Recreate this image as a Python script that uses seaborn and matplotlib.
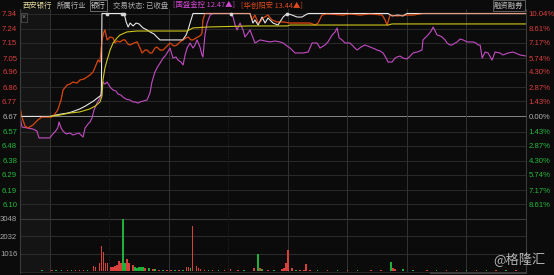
import matplotlib
matplotlib.use("Agg")
import matplotlib.pyplot as plt
import seaborn as sns
import pandas as pd
from matplotlib.patches import Rectangle

# ---------------- data (time = minutes after 09:15; 15 = 09:30, 135 = 11:30/13:00, 255 = 15:00)
price_ticks = [7.34, 7.24, 7.15, 7.05, 6.96, 6.86, 6.77, 6.67, 6.57, 6.48, 6.38, 6.29, 6.19, 6.10]
price_labels = ["7.34", "7.24", "7.15", "7.05", "6.96", "6.86", "6.77", "6.67", "6.57", "6.48", "6.38", "6.29", "6.19", "6.10"]
pct_labels = ["10.04%", "8.61%", "7.17%", "5.74%", "4.30%", "2.87%", "1.43%", "0.00%",
              "1.43%", "2.87%", "4.30%", "5.74%", "7.17%", "8.61%"]
prev_close = 6.67
vol_ticks = [1016, 2032, 3048]
vol_labels = ["1016", "2032", "3048"]
time_grid = [15, 45, 75, 105, 135, 165, 195, 225]

white_t = [0, 15, 18, 21, 24, 26, 30, 33, 37, 39, 41, 41.3, 44, 51.5, 52.5, 53.5, 54.5, 55.5, 57, 58.5,
           60, 62, 64, 65.5, 67.5, 69, 70.5, 73, 75.5, 78, 82, 83.7, 84.7, 85.7, 87.2, 106.4, 115.9, 117.4, 118.4, 120,
           122, 123.5, 125, 127.5, 130, 132.6, 134.6, 137.1, 139.6, 142.1, 144.7, 145.5, 185.5, 187.5, 190.5, 193, 195, 255]
white_p = [6.67, 6.67, 6.679, 6.686, 6.692, 6.699, 6.718, 6.738, 6.770, 6.790, 6.809, 7.34, 7.34, 7.34, 7.34, 7.285, 7.252, 7.278, 7.259, 7.278,
           7.272, 7.246, 7.233, 7.220, 7.207, 7.187, 7.168, 7.168, 7.168, 7.168, 7.168, 7.200, 7.233, 7.278, 7.34, 7.34, 7.34, 7.278, 7.298, 7.265,
           7.317, 7.278, 7.311, 7.278, 7.265, 7.317, 7.34, 7.330, 7.317, 7.317, 7.337, 7.34, 7.34, 7.324, 7.330, 7.324, 7.34, 7.34]

avg_t = [15, 20, 25, 30, 35, 38, 40.3, 41.3, 41.8, 42.8, 43.9, 45.4, 46.9, 48.9, 50.4, 53.9, 59, 84.2, 87.2, 94.3,
         115.9, 134.6, 136.1, 185.5, 187.5, 255]
avg_p = [6.67, 6.679, 6.692, 6.699, 6.718, 6.738, 6.764, 6.803, 6.907, 6.985, 7.037, 7.102, 7.148, 7.181, 7.200, 7.220, 7.226, 7.226, 7.246, 7.252,
         7.259, 7.259, 7.265, 7.265, 7.272, 7.272]

hcya_t = [0, 1, 2.5, 4, 6.5, 9, 11, 14, 16, 17.6, 19, 20.7, 21.7, 23.7, 25.2, 26.7, 28.7, 30.2, 32.3, 33.8,
          35.3, 36.8, 38.3, 39.3, 40.3, 41.3, 42.3, 42.8, 43.9, 45.4, 46.9, 47.9, 48.9, 50.4, 51.9, 52.9, 54.4, 55.4, 57.5, 59.0,
          60.5, 61.5, 63.0, 64.0, 65.5, 66.5, 68.0, 69.0, 70.6, 72.1, 74.1, 75.6, 77.6, 79.1, 80.6, 82.2, 83.7, 84.7, 86.2, 87.2,
          88.7, 89.7, 91.2, 91.7, 92.2, 93.2, 115.9, 116.9, 118.4, 120, 121, 122.5, 125, 127, 129.5, 132.6, 136.1, 142.6, 146.2, 148.7,
          150.2, 152.2, 154.7, 162.8, 166.3, 171.4, 176.4, 182.5, 184, 185, 186.5, 190, 195, 198.1, 201.6, 203, 255]
hcya_p = [6.731, 6.666, 6.608, 6.595, 6.614, 6.647, 6.666, 6.666, 6.666, 6.686, 6.712, 6.777, 6.842, 6.874, 6.881, 6.894, 6.887, 6.907, 6.914, 6.927,
          6.940, 6.959, 7.005, 7.037, 7.024, 7.168, 7.220, 7.233, 7.168, 7.187, 7.181, 7.148, 7.161, 7.155, 7.168, 7.168, 7.141, 7.135, 7.148, 7.155,
          7.115, 7.083, 7.102, 7.102, 7.083, 7.083, 7.115, 7.122, 7.102, 7.102, 7.128, 7.148, 7.128, 7.135, 7.155, 7.168, 7.181, 7.187, 7.168, 7.168,
          7.181, 7.187, 7.200, 7.213, 7.298, 7.34, 7.34, 7.298, 7.330, 7.278, 7.285, 7.311, 7.330, 7.298, 7.285, 7.285, 7.278, 7.278, 7.278, 7.265,
          7.278, 7.330, 7.337, 7.330, 7.337, 7.330, 7.337, 7.330, 7.298, 7.265, 7.330, 7.324, 7.330, 7.330, 7.337, 7.34, 7.34]

gsjk_t = [0, 1, 6.5, 8.5, 9.6, 15, 16.6, 18, 19, 19.7, 20.7, 21.7, 23.2, 25.2, 26.7, 28.2, 29.7, 30.7, 31.8, 32.8,
          34.3, 35.3, 36.3, 37.3, 38.8, 40.3, 40.8, 41.8, 42.8, 43.9, 45.4, 46.9, 48.4, 49.4, 50.9, 51.9, 53.4, 55.4, 57.0, 58.0,
          59.5, 60.5, 62.0, 64.0, 65.5, 66.5, 68.0, 69.6, 70.6, 72.1, 73.1, 74.1, 75.6, 77.1, 78.6, 79.6, 81.1, 82.2, 83.2, 84.2,
          85.7, 87.2, 88.2, 89.2, 90.7, 91.7, 92.2, 93.2, 94.3, 95.8, 97.3, 105.8, 107.4, 108.4, 109.4, 110.9, 112.4, 113.4, 114.9, 115.9,
          117.4, 118.4, 121, 123.5, 126, 128.5, 131, 132.6, 134.6, 136.1, 138.6, 141.1, 142.6, 145.2, 147.2, 149.7, 151.2, 153.7, 155.2, 157.3,
          158.8, 159.8, 160.8, 162.3, 163.8, 166.3, 168.8, 169.9, 171.9, 173.9, 176.4, 178.9, 179.9, 181.5, 183, 184.5, 185.5, 187.5, 189, 190,
          191.5, 193, 195, 196.6, 198.1, 200.1, 202.6, 203.1, 204.6, 205.6, 207.2, 208.2, 209.2, 210.2, 211.7, 212.7, 214.2, 215.2, 216.7, 217.7,
          219.3, 220.3, 221.8, 223.3, 225.3, 226.8, 228.3, 229.8, 230.8, 231.9, 232.9, 234.4, 235.9, 237.9, 239.4, 241.9, 243.4, 246, 248.5, 252,
          255]
gsjk_p = [6.67, 6.601, 6.588, 6.575, 6.530, 6.530, 6.556, 6.575, 6.595, 6.634, 6.595, 6.575, 6.556, 6.562, 6.549, 6.556, 6.562, 6.549, 6.536, 6.595,
          6.621, 6.634, 6.660, 6.712, 6.757, 6.790, 6.822, 6.894, 6.881, 6.894, 6.861, 6.842, 6.835, 6.816, 6.809, 6.796, 6.783, 6.777, 6.764, 6.764,
          6.757, 6.764, 6.770, 6.777, 6.822, 6.894, 6.959, 6.998, 7.018, 7.050, 7.063, 7.083, 7.115, 7.050, 7.057, 7.037, 7.024, 7.005, 7.070, 7.115,
          7.148, 7.115, 7.135, 7.168, 7.122, 7.070, 7.057, 7.200, 7.278, 7.330, 7.34, 7.34, 7.317, 7.265, 7.233, 7.278, 7.233, 7.187, 7.213, 7.233,
          7.181, 7.148, 7.168, 7.161, 7.155, 7.161, 7.155, 7.148, 7.128, 7.115, 7.083, 7.083, 7.083, 7.089, 7.148, 7.148, 7.115, 7.135, 7.155, 7.200,
          7.220, 7.246, 7.181, 7.168, 7.148, 7.148, 7.115, 7.102, 7.122, 7.135, 7.122, 7.109, 7.102, 7.096, 7.083, 7.050, 7.024, 7.024, 7.050, 7.057,
          7.063, 7.050, 7.044, 7.063, 7.083, 7.089, 7.102, 7.168, 7.187, 7.200, 7.226, 7.252, 7.226, 7.200, 7.194, 7.187, 7.168, 7.148, 7.135, 7.135,
          7.148, 7.155, 7.174, 7.168, 7.155, 7.155, 7.155, 7.148, 7.135, 7.135, 7.050, 7.089, 7.083, 7.037, 7.089, 7.083, 7.070, 7.083, 7.089, 7.070,
          7.063]

limit_touch_t = [43.9, 51.4, 52.4, 106.4, 134.6]
limit_touch_p = [7.34, 7.34, 7.34, 7.34, 7.34]

# volume: larger bars
vol_t = [11, 21, 28, 32, 37, 38, 40, 41, 42, 43, 44, 46, 47, 48, 49, 50, 51, 52, 53, 54, 55, 57, 58, 59, 60, 61, 62, 63, 65, 67, 68,
         84, 85, 86, 87, 89, 90, 91, 106, 118, 120, 121, 122, 132, 133, 134, 135, 137, 139, 141, 143, 144, 177, 187, 188, 189, 193]
vol_v = [30, 60, 40, 50, 311, 215, 450, 1465, 1133, 488, 488, 215, 254, 293, 371, 586, 450, 3048, 488, 684, 488, 332, 254, 195, 215, 254, 215, 156, 156, 117, 98,
         215, 254, 156, 2640, 310, 156, 117, 117, 200, 1000, 156, 98, 117, 156, 450, 1230, 156, 80, 80, 80, 390, 80, 507, 156, 117, 98]
vol_dir = ["down", "down", "up", "up", "up", "up", "up", "up", "up", "up", "up", "up", "up", "up", "up", "up", "up", "down", "down", "up",
           "up", "up", "down", "down", "down", "down", "down", "up", "down", "up", "down",
           "up", "up", "down", "up", "up", "up", "up", "up", "up", "down", "up", "down", "up", "up", "up", "up", "up", "down", "up",
           "up", "up", "up", "down", "up", "up", "down"]
# volume: small bars
small_t = [16, 18, 24, 26, 30, 34, 70, 72, 74, 76, 78, 80, 82, 93, 95, 97, 100, 103, 110, 113,
           125, 128, 146, 150, 155, 160, 165, 170, 182, 198, 205, 210, 215, 220, 225, 230, 235, 240, 245, 250]
small_v = [50, 40, 60, 40, 50, 60, 50, 40, 60, 50, 40, 60, 50, 40, 60, 50, 40, 50, 60, 40,
           50, 40, 60, 40, 50, 40, 60, 40, 50, 40, 60, 40, 50, 40, 60, 40, 50, 40, 60, 40]
small_dir = ["up", "down", "up", "down", "up", "down", "up", "down", "up", "up", "down", "up", "down", "up", "down", "up", "down", "up", "up", "down",
             "up", "down", "up", "down", "up", "down", "up", "down", "up", "down", "up", "down", "up", "up", "down", "up", "down", "up", "down", "up"]

# ---------------- styling
sns.set_theme(style="dark")
plt.rcParams["font.family"] = ["Liberation Sans", "DejaVu Sans"]
CJK = ["Noto Sans CJK SC", "DejaVu Sans"]
BG = "#0b0b0b"
GRID = "#2a2a2a"
RED_T, GREEN_T, GRAY_T = "#d8403c", "#26b83a", "#b4b4b4"
ORANGE = "#d8460f"

W, H = 554, 275
fig = plt.figure(figsize=(W / 100, H / 100), dpi=100, facecolor=BG)


def rect(x0, y0, x1, y1):
    return [x0 / W, 1 - y1 / H, (x1 - x0) / W, (y1 - y0) / H]


def fy(y):
    return 1 - y / H


def vgrid(a):
    for t in time_grid:
        dim = t in (45, 105)
        a.axvline(t, color="#1f1f1f" if dim else "#333333", lw=0.7,
                  ls=(0, (1.5, 1.5)) if dim else "-", zorder=1)


# price panel: 7.34 at y=13.5px, 0.006509 per px
ax = fig.add_axes(rect(20, 9, 526, 212))
ax.set_facecolor(BG)
ax.set_xlim(0, 255)
ax.set_ylim(7.34 - (212 - 13.5) * 0.006509, 7.34 + 4.5 * 0.006509)
for s in ax.spines.values():
    s.set_visible(False)
ax.axvspan(0, 15, color="#141414", lw=0, zorder=0)
for p in price_ticks:
    ax.axhline(p, color=GRID, lw=0.7, zorder=1)
ax.axhline(prev_close, color="#858585", lw=0.7, zorder=1)
vgrid(ax)

sns.lineplot(x=gsjk_t, y=gsjk_p, ax=ax, color="#c44cc4", lw=0.8, estimator=None, sort=False, zorder=3)
sns.lineplot(x=hcya_t, y=hcya_p, ax=ax, color=ORANGE, lw=0.8, estimator=None, sort=False, zorder=4)
sns.lineplot(x=white_t, y=white_p, ax=ax, color="#e6e6e6", lw=0.8, estimator=None, sort=False, zorder=5)
sns.lineplot(x=hcya_t, y=hcya_p, ax=ax, color=ORANGE, lw=0.8, alpha=0.45, estimator=None, sort=False, zorder=6)
sns.lineplot(x=avg_t, y=avg_p, ax=ax, color="#cfc61c", lw=0.8, estimator=None, sort=False, zorder=7)
sns.scatterplot(x=limit_touch_t, y=limit_touch_p, ax=ax, color="#d8d8d8", s=7, linewidth=0, zorder=8)

ax.set_xticks([])
ax.set_yticks(price_ticks)
ax.set_yticklabels(price_labels, fontsize=5.6)
ax.tick_params(axis="y", length=0, pad=2)
for lab, p in zip(ax.get_yticklabels(), price_ticks):
    lab.set_color(RED_T if p > prev_close + 1e-6 else (GREEN_T if p < prev_close - 1e-6 else GRAY_T))
ax.set_xlabel("")
ax.set_ylabel("")

ax2 = ax.twinx()
ax2.set_ylim(ax.get_ylim())
ax2.set_yticks(price_ticks)
ax2.set_yticklabels(pct_labels, fontsize=5.6)
ax2.tick_params(axis="y", length=0, pad=2)
ax2.grid(False)
for s in ax2.spines.values():
    s.set_visible(False)
for lab, p in zip(ax2.get_yticklabels(), price_ticks):
    lab.set_color(RED_T if p > prev_close + 1e-6 else (GREEN_T if p < prev_close - 1e-6 else GRAY_T))

# volume panel: 0 at y=271px, 58.6 per px
axv = fig.add_axes(rect(20, 212, 526, 272))
axv.set_facecolor(BG)
axv.set_ylim(-58.6, (271 - 212) * 58.6)
for s in axv.spines.values():
    s.set_visible(False)
axv.axvspan(0, 15, color="#141414", lw=0, zorder=0)
for v in vol_ticks:
    axv.axhline(v, color="#3a3a3a" if v == max(vol_ticks) else GRID, lw=0.8, zorder=1)
vgrid(axv)
vol_df = pd.concat([pd.DataFrame({"t": vol_t, "v": vol_v, "d": vol_dir}),
                    pd.DataFrame({"t": small_t, "v": small_v, "d": small_dir})], ignore_index=True)
for d, c in (("up", "#d8403c"), ("down", "#1fb03a")):
    sub = vol_df[vol_df["d"] == d]
    axv.bar(sub["t"].to_numpy(), sub["v"].to_numpy(), width=0.8, facecolor=c, edgecolor="none",
            lw=0, antialiased=True, zorder=3)
axv.set_xlim(0, 255)
axv.set_xticks([])
axv.set_yticks(vol_ticks)
axv.set_yticklabels(vol_labels, fontsize=5.6, color="#a8a8a8")
axv.tick_params(axis="y", length=0, pad=2)

# borders
for xp in (20, 526):
    fig.add_artist(plt.Line2D([xp / W, xp / W], [fy(9), fy(273)], color="#3c3c3c", lw=0.8))
fig.add_artist(Rectangle((20 / W, fy(273)), 506 / W, 1.5 / H, color="#262626", lw=0))
fig.add_artist(Rectangle((430 / W, fy(273.5)), 96 / W, 2 / H, color="#3c3c3c", lw=0))

# header
hy = fy(5.5)
fig.text(23 / W, hy, "西安银行", family=CJK, fontsize=5.3, color="#e6dca0", va="center")
fig.text(57 / W, hy, "所属行业", family=CJK, fontsize=5.3, color="#b4b4b4", va="center")
fig.text(91 / W, hy, "银行", family=CJK, fontsize=5.3, color="#d0d0d0", va="center",
         bbox=dict(boxstyle="square,pad=0.15", fc="none", ec="#7a7a7a", lw=0.6))
fig.text(113 / W, hy, "交易状态: 已收盘", family=CJK, fontsize=5.3, color="#a8a8a8", va="center")
fig.text(173 / W, hy, "[国盛金控 12.47▲]", family=CJK, fontsize=5.3, color="#d048d0", va="center")
fig.text(241 / W, hy, "[华创阳安 13.44▲]", family=CJK, fontsize=5.3, color="#e04a1a", va="center")
fig.text(494 / W, hy, "融资融券", family=CJK, fontsize=5.3, color="#c0c0c0", va="center",
         bbox=dict(boxstyle="square,pad=0.15", fc="none", ec="#6a6a6a", lw=0.6))
fig.text(24 / W, fy(17.5), "×", fontsize=5, color="#9a9a9a", va="center", ha="center",
         bbox=dict(boxstyle="square,pad=0.1", fc="none", ec="#5a5a5a", lw=0.5))

# watermark
fig.text(493 / W, fy(260), "@格隆汇", family=CJK, fontsize=9.5, color="#d0d0d0", alpha=0.85, va="center")

fig.savefig("out.png", dpi=100, facecolor=BG)
